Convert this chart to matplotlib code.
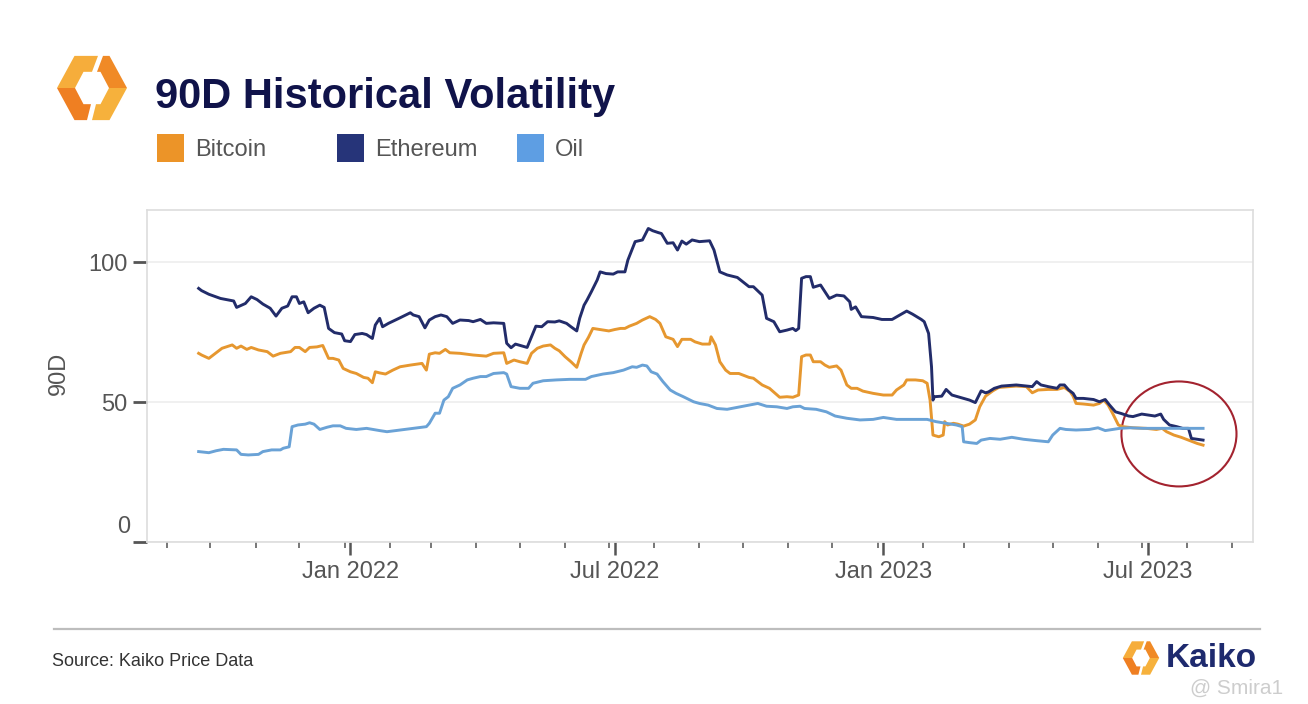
import matplotlib
matplotlib.use('Agg')
import matplotlib.pyplot as plt
import matplotlib.dates as mdates
from matplotlib.patches import Ellipse, Polygon, Rectangle
from matplotlib.lines import Line2D
import pandas as pd

plt.rcParams['font.family'] = ['Liberation Sans', 'DejaVu Sans']

W, H = 1308, 704

title = '90D Historical Volatility'
source = 'Source: Kaiko Price Data'
series_names = ['Bitcoin', 'Ethereum', 'Oil']
line_colors = {'Bitcoin': '#E6972F', 'Ethereum': '#222C6A', 'Oil': '#6AA2D6'}
legend_colors = {'Bitcoin': '#EC9428', 'Ethereum': '#263479', 'Oil': '#5E9EE3'}

bitcoin = [
    ("2021-09-19", 67.4), ("2021-09-21", 66.8), ("2021-09-26", 65.6), ("2021-09-29", 66.8),
    ("2021-10-05", 69.2), ("2021-10-12", 70.4), ("2021-10-15", 69.2), ("2021-10-18", 70.0),
    ("2021-10-22", 68.8), ("2021-10-25", 69.5), ("2021-10-30", 68.6), ("2021-11-05", 68.0),
    ("2021-11-09", 66.4), ("2021-11-14", 67.4), ("2021-11-21", 68.0), ("2021-11-24", 69.5),
    ("2021-11-27", 69.5), ("2021-12-01", 68.0), ("2021-12-04", 69.5), ("2021-12-09", 69.7),
    ("2021-12-13", 70.2), ("2021-12-17", 65.6), ("2021-12-20", 65.6), ("2021-12-24", 65.0),
    ("2021-12-27", 62.0), ("2022-01-01", 60.8), ("2022-01-05", 60.2), ("2022-01-10", 58.8),
    ("2022-01-13", 58.5), ("2022-01-16", 56.9), ("2022-01-18", 60.8), ("2022-01-21", 60.4),
    ("2022-01-25", 60.0), ("2022-01-30", 61.4), ("2022-02-04", 62.6), ("2022-02-11", 63.2),
    ("2022-02-15", 63.5), ("2022-02-19", 63.8), ("2022-02-22", 61.4), ("2022-02-24", 67.1),
    ("2022-02-28", 67.6), ("2022-03-03", 67.4), ("2022-03-07", 68.8), ("2022-03-10", 67.6),
    ("2022-03-17", 67.4), ("2022-03-26", 66.8), ("2022-04-04", 66.4), ("2022-04-09", 67.4),
    ("2022-04-16", 67.6), ("2022-04-18", 63.8), ("2022-04-23", 65.0), ("2022-04-27", 64.4),
    ("2022-05-02", 63.8), ("2022-05-05", 67.4), ("2022-05-09", 69.2), ("2022-05-13", 70.0),
    ("2022-05-18", 70.4), ("2022-05-21", 69.2), ("2022-05-24", 68.3), ("2022-05-28", 66.2),
    ("2022-06-01", 64.4), ("2022-06-05", 62.4), ("2022-06-08", 67.4), ("2022-06-10", 70.4),
    ("2022-06-13", 73.1), ("2022-06-16", 76.3), ("2022-06-21", 75.9), ("2022-06-27", 75.4),
    ("2022-07-01", 75.9), ("2022-07-05", 76.3), ("2022-07-08", 76.3), ("2022-07-11", 77.1),
    ("2022-07-16", 78.1), ("2022-07-20", 79.3), ("2022-07-25", 80.5), ("2022-07-29", 79.5),
    ("2022-08-01", 78.1), ("2022-08-05", 73.3), ("2022-08-10", 72.4), ("2022-08-13", 69.8),
    ("2022-08-16", 72.4), ("2022-08-22", 72.4), ("2022-08-25", 71.5), ("2022-08-30", 70.7),
    ("2022-09-04", 70.7), ("2022-09-05", 73.3), ("2022-09-08", 70.4), ("2022-09-11", 64.4),
    ("2022-09-15", 61.4), ("2022-09-18", 60.2), ("2022-09-24", 60.2), ("2022-10-01", 58.8),
    ("2022-10-04", 58.5), ("2022-10-10", 56.1), ("2022-10-15", 54.9), ("2022-10-22", 51.7),
    ("2022-10-27", 51.9), ("2022-10-31", 51.7), ("2022-11-04", 52.5), ("2022-11-06", 66.2),
    ("2022-11-09", 66.8), ("2022-11-12", 66.8), ("2022-11-14", 64.4), ("2022-11-19", 64.4),
    ("2022-11-22", 63.2), ("2022-11-25", 62.4), ("2022-11-30", 62.9), ("2022-12-03", 61.4),
    ("2022-12-07", 56.1), ("2022-12-10", 54.9), ("2022-12-14", 54.9), ("2022-12-18", 53.9),
    ("2022-12-25", 53.1), ("2023-01-01", 52.5), ("2023-01-07", 52.5), ("2023-01-10", 54.3),
    ("2023-01-15", 56.1), ("2023-01-17", 57.9), ("2023-01-23", 57.9), ("2023-01-28", 57.6),
    ("2023-01-31", 56.7), ("2023-02-02", 50.7), ("2023-02-04", 38.2), ("2023-02-08", 37.6),
    ("2023-02-11", 38.2), ("2023-02-12", 43.0), ("2023-02-14", 41.8), ("2023-02-18", 42.4),
    ("2023-02-21", 42.1), ("2023-02-25", 41.4), ("2023-03-01", 42.1), ("2023-03-05", 43.6),
    ("2023-03-08", 48.3), ("2023-03-12", 52.1), ("2023-03-17", 54.0), ("2023-03-21", 55.2),
    ("2023-04-02", 55.7), ("2023-04-09", 55.5), ("2023-04-13", 53.3), ("2023-04-17", 54.3),
    ("2023-04-24", 54.5), ("2023-04-30", 54.5), ("2023-05-05", 55.2), ("2023-05-09", 53.7),
    ("2023-05-11", 52.1), ("2023-05-13", 49.5), ("2023-05-18", 49.3), ("2023-05-25", 48.9),
    ("2023-05-29", 49.5), ("2023-06-01", 50.7), ("2023-06-04", 48.9), ("2023-06-07", 46.0),
    ("2023-06-11", 41.8), ("2023-06-14", 41.2), ("2023-06-21", 40.8), ("2023-06-30", 40.6),
    ("2023-07-07", 40.2), ("2023-07-11", 40.6), ("2023-07-14", 39.4), ("2023-07-19", 38.2),
    ("2023-07-24", 37.4), ("2023-07-30", 36.2), ("2023-08-04", 35.2), ("2023-08-08", 34.6),
]

ethereum = [
    ("2021-09-19", 90.6), ("2021-09-21", 89.8), ("2021-09-26", 88.5), ("2021-10-04", 87.0),
    ("2021-10-13", 86.1), ("2021-10-15", 83.8), ("2021-10-21", 85.2), ("2021-10-25", 87.6),
    ("2021-10-29", 86.6), ("2021-11-02", 85.0), ("2021-11-07", 83.5), ("2021-11-11", 80.7),
    ("2021-11-15", 83.5), ("2021-11-19", 84.3), ("2021-11-22", 87.6), ("2021-11-25", 87.6),
    ("2021-11-27", 85.2), ("2021-11-30", 85.8), ("2021-12-03", 81.9), ("2021-12-07", 83.5),
    ("2021-12-11", 84.6), ("2021-12-14", 83.8), ("2021-12-17", 76.3), ("2021-12-21", 74.8),
    ("2021-12-26", 74.3), ("2021-12-28", 71.9), ("2022-01-01", 71.6), ("2022-01-04", 74.1),
    ("2022-01-09", 74.5), ("2022-01-12", 74.1), ("2022-01-16", 72.7), ("2022-01-18", 77.5),
    ("2022-01-21", 79.9), ("2022-01-23", 76.9), ("2022-01-27", 78.1), ("2022-02-04", 80.1),
    ("2022-02-11", 81.9), ("2022-02-13", 81.1), ("2022-02-17", 80.5), ("2022-02-21", 76.5),
    ("2022-02-24", 79.3), ("2022-02-28", 80.5), ("2022-03-04", 81.1), ("2022-03-08", 80.5),
    ("2022-03-12", 78.1), ("2022-03-17", 79.3), ("2022-03-23", 79.1), ("2022-03-26", 78.7),
    ("2022-03-31", 79.5), ("2022-04-04", 78.1), ("2022-04-09", 78.3), ("2022-04-16", 78.1),
    ("2022-04-18", 71.0), ("2022-04-21", 69.4), ("2022-04-24", 70.7), ("2022-04-28", 70.1),
    ("2022-05-02", 69.5), ("2022-05-05", 73.3), ("2022-05-08", 77.1), ("2022-05-12", 76.9),
    ("2022-05-16", 78.7), ("2022-05-21", 78.6), ("2022-05-24", 79.0), ("2022-05-29", 78.1),
    ("2022-06-01", 76.9), ("2022-06-05", 75.4), ("2022-06-07", 79.9), ("2022-06-10", 84.6),
    ("2022-06-12", 86.4), ("2022-06-15", 89.4), ("2022-06-19", 93.6), ("2022-06-21", 96.5),
    ("2022-06-25", 95.9), ("2022-06-30", 95.7), ("2022-07-03", 96.5), ("2022-07-08", 96.5),
    ("2022-07-10", 100.7), ("2022-07-15", 107.3), ("2022-07-20", 107.9), ("2022-07-24", 112.0),
    ("2022-07-27", 111.2), ("2022-07-31", 110.5), ("2022-08-02", 110.2), ("2022-08-06", 106.7),
    ("2022-08-10", 106.9), ("2022-08-13", 104.3), ("2022-08-16", 107.5), ("2022-08-19", 106.4),
    ("2022-08-23", 107.9), ("2022-08-28", 107.3), ("2022-09-04", 107.6), ("2022-09-07", 104.3),
    ("2022-09-11", 96.5), ("2022-09-16", 95.4), ("2022-09-23", 94.5), ("2022-10-01", 91.2),
    ("2022-10-04", 91.2), ("2022-10-10", 88.2), ("2022-10-13", 79.9), ("2022-10-18", 78.7),
    ("2022-10-22", 75.1), ("2022-10-27", 75.7), ("2022-10-31", 76.3), ("2022-11-02", 75.5),
    ("2022-11-04", 76.3), ("2022-11-06", 94.2), ("2022-11-09", 94.8), ("2022-11-12", 94.8),
    ("2022-11-14", 91.0), ("2022-11-19", 91.8), ("2022-11-22", 89.4), ("2022-11-25", 87.0),
    ("2022-11-30", 88.2), ("2022-12-05", 87.9), ("2022-12-09", 85.8), ("2022-12-10", 83.1),
    ("2022-12-13", 84.0), ("2022-12-17", 80.5), ("2022-12-25", 80.2), ("2022-12-31", 79.5),
    ("2023-01-07", 79.5), ("2023-01-11", 80.7), ("2023-01-17", 82.5), ("2023-01-21", 81.4),
    ("2023-01-27", 79.5), ("2023-01-29", 78.7), ("2023-02-01", 74.5), ("2023-02-03", 62.6),
    ("2023-02-04", 50.7), ("2023-02-05", 51.9), ("2023-02-10", 52.1), ("2023-02-13", 54.5),
    ("2023-02-17", 52.5), ("2023-02-21", 51.9), ("2023-02-25", 51.3), ("2023-03-01", 50.7),
    ("2023-03-05", 49.8), ("2023-03-09", 54.0), ("2023-03-12", 53.3), ("2023-03-14", 53.6),
    ("2023-03-18", 54.9), ("2023-03-23", 55.7), ("2023-04-02", 56.1), ("2023-04-09", 55.7),
    ("2023-04-13", 55.5), ("2023-04-16", 57.3), ("2023-04-19", 56.1), ("2023-04-24", 55.5),
    ("2023-04-30", 54.9), ("2023-05-02", 56.1), ("2023-05-05", 56.1), ("2023-05-08", 54.3),
    ("2023-05-11", 53.1), ("2023-05-13", 51.3), ("2023-05-18", 51.3), ("2023-05-25", 50.9),
    ("2023-05-29", 50.1), ("2023-06-02", 50.9), ("2023-06-05", 48.9), ("2023-06-09", 46.5),
    ("2023-06-13", 45.9), ("2023-06-18", 45.0), ("2023-06-21", 44.8), ("2023-06-27", 45.7),
    ("2023-07-01", 45.4), ("2023-07-06", 45.0), ("2023-07-10", 45.7), ("2023-07-12", 43.8),
    ("2023-07-16", 41.8), ("2023-07-21", 41.2), ("2023-07-25", 40.6), ("2023-07-29", 40.6),
    ("2023-07-31", 37.0), ("2023-08-04", 36.7), ("2023-08-08", 36.4),
]

oil = [
    ("2021-09-19", 32.3), ("2021-09-26", 31.9), ("2021-10-01", 32.6), ("2021-10-06", 33.1),
    ("2021-10-15", 32.9), ("2021-10-18", 31.3), ("2021-10-23", 31.1), ("2021-10-30", 31.3),
    ("2021-11-02", 32.3), ("2021-11-08", 32.9), ("2021-11-14", 32.9), ("2021-11-16", 33.5),
    ("2021-11-20", 34.0), ("2021-11-22", 41.2), ("2021-11-26", 41.8), ("2021-12-01", 42.1),
    ("2021-12-04", 42.6), ("2021-12-07", 42.1), ("2021-12-11", 40.2), ("2021-12-16", 41.0),
    ("2021-12-20", 41.5), ("2021-12-25", 41.5), ("2021-12-29", 40.6), ("2022-01-05", 40.2),
    ("2022-01-12", 40.6), ("2022-01-21", 39.8), ("2022-01-26", 39.4), ("2022-02-04", 40.0),
    ("2022-02-13", 40.6), ("2022-02-22", 41.2), ("2022-02-24", 42.4), ("2022-02-28", 46.0),
    ("2022-03-03", 46.0), ("2022-03-06", 50.7), ("2022-03-09", 51.9), ("2022-03-12", 54.9),
    ("2022-03-17", 56.1), ("2022-03-22", 57.9), ("2022-03-26", 58.5), ("2022-03-31", 59.1),
    ("2022-04-04", 59.1), ("2022-04-09", 60.2), ("2022-04-16", 60.5), ("2022-04-18", 60.0),
    ("2022-04-21", 55.5), ("2022-04-27", 54.9), ("2022-05-03", 54.9), ("2022-05-06", 56.7),
    ("2022-05-13", 57.6), ("2022-05-22", 57.9), ("2022-05-31", 58.1), ("2022-06-11", 58.1),
    ("2022-06-15", 59.1), ("2022-06-23", 60.0), ("2022-06-30", 60.5), ("2022-07-07", 61.4),
    ("2022-07-13", 62.6), ("2022-07-16", 62.4), ("2022-07-20", 63.2), ("2022-07-23", 62.9),
    ("2022-07-26", 60.8), ("2022-07-30", 60.0), ("2022-08-03", 57.3), ("2022-08-08", 54.3),
    ("2022-08-12", 53.1), ("2022-08-17", 51.9), ("2022-08-24", 50.1), ("2022-08-28", 49.5),
    ("2022-09-03", 48.9), ("2022-09-09", 47.7), ("2022-09-16", 47.4), ("2022-09-23", 48.1),
    ("2022-10-01", 48.9), ("2022-10-07", 49.5), ("2022-10-13", 48.5), ("2022-10-20", 48.3),
    ("2022-10-27", 47.7), ("2022-10-31", 48.3), ("2022-11-05", 48.5), ("2022-11-08", 47.7),
    ("2022-11-16", 47.4), ("2022-11-23", 46.5), ("2022-11-29", 45.0), ("2022-12-07", 44.2),
    ("2022-12-16", 43.6), ("2022-12-25", 43.8), ("2023-01-01", 44.5), ("2023-01-10", 43.8),
    ("2023-01-21", 43.8), ("2023-01-31", 43.8), ("2023-02-06", 43.0), ("2023-02-13", 42.4),
    ("2023-02-20", 41.8), ("2023-02-24", 41.2), ("2023-02-25", 35.8), ("2023-03-01", 35.5),
    ("2023-03-06", 35.2), ("2023-03-09", 36.4), ("2023-03-15", 37.0), ("2023-03-22", 36.7),
    ("2023-03-30", 37.4), ("2023-04-07", 36.7), ("2023-04-16", 36.2), ("2023-04-24", 35.8),
    ("2023-04-27", 38.2), ("2023-05-02", 40.6), ("2023-05-06", 40.2), ("2023-05-13", 40.0),
    ("2023-05-22", 40.2), ("2023-05-28", 40.8), ("2023-06-02", 39.8), ("2023-06-07", 40.2),
    ("2023-06-12", 40.6), ("2023-06-19", 40.8), ("2023-06-28", 40.6), ("2023-07-07", 40.6),
    ("2023-07-16", 40.6), ("2023-07-25", 40.6), ("2023-08-08", 40.6),
]

y_ticks = [0, 50, 100]
x_ticks = ['2022-01-01', '2022-07-01', '2023-01-01', '2023-07-01']
x_tick_labels = ['Jan 2022', 'Jul 2022', 'Jan 2023', 'Jul 2023']


def fpt(x, y):
    # pixel position (y from top) -> figure fraction
    return (x / W, 1 - y / H)


def draw_logo(fig, cx, cy, s):
    R, r = 35.0, 17.0
    hy = 30.3 * 1.06
    iy = 14.7 * 1.1
    pieces = [
        ([(6, -hy), (-R / 2, -hy), (-R, 0), (-r, 0), (-r / 2, -iy), (0, -iy)], '#F6AD3B'),
        ([(-R, 0), (-R / 2, hy), (-5, hy), (-1, iy), (-r / 2, iy), (-r, 0)], '#EF7F22'),
        ([(11, -hy), (R / 2, -hy), (R, 0), (r, 0), (r / 2, -iy), (5, -iy)], '#F08A26'),
        ([(R, 0), (R / 2, hy), (0, hy), (4, iy), (r / 2, iy), (r, 0)], '#F6B13C'),
    ]
    for pts, c in pieces:
        poly = [fpt(cx + s * px, cy + s * py) for px, py in pts]
        fig.add_artist(Polygon(poly, closed=True, transform=fig.transFigure,
                               facecolor=c, edgecolor='none'))


fig = plt.figure(figsize=(W / 100, H / 100), dpi=100)
fig.patch.set_facecolor('white')

# header
draw_logo(fig, 92, 88, 1.0)
fig.text(*fpt(155, 108), title, fontsize=30, fontweight='bold', color='#10134A',
         ha='left', va='baseline')

legend_pos = [(157, 195), (337, 375), (517, 555)]
for name, (sx, tx) in zip(series_names, legend_pos):
    x0, y0 = fpt(sx, 162)
    fig.add_artist(Rectangle((x0, y0), 27 / W, 28 / H, transform=fig.transFigure,
                             facecolor=legend_colors[name], edgecolor='none'))
    fig.text(*fpt(tx, 156), name, fontsize=17, color='#555555', ha='left', va='baseline')

# chart
ax = fig.add_axes([146.7 / W, 1 - 542 / H, (1253 - 146.7) / W, (542 - 210) / H])

for name, data in zip(series_names, [bitcoin, ethereum, oil]):
    d = pd.to_datetime([t[0] for t in data])
    v = [t[1] for t in data]
    ax.plot(d, v, color=line_colors[name], lw=2.1, solid_joinstyle='round')

ax.set_xlim(pd.Timestamp('2021-08-14 10:00'), pd.Timestamp('2023-09-11 05:00'))
ax.set_ylim(0, 118.6)

ax.set_yticks(y_ticks, ['', '50', '100'])
ax.annotate('0', xy=(0, 0), xycoords=('axes fraction', 'data'), xytext=(-11.5, 11),
            textcoords='offset points', ha='right', va='center', fontsize=17, color='#555555')
ax.set_xticks(pd.to_datetime(x_ticks), x_tick_labels)
minor = pd.date_range('2021-09-01', '2023-09-01', freq='MS') - pd.Timedelta(days=4)
ax.set_xticks(minor, minor=True)

ax.tick_params(axis='x', which='major', length=9, width=1.8, color='#555555',
               labelsize=17, labelcolor='#555555', pad=5)
ax.tick_params(axis='x', which='minor', length=4, width=1.4, color='#777777')
ax.tick_params(axis='y', length=10, width=2, color='#555555', labelsize=17,
               labelcolor='#555555', pad=4)

for sp in ax.spines.values():
    sp.set_color('#DDDDDD')
    sp.set_linewidth(1.2)
ax.yaxis.grid(True, color='#EEEEEE', lw=1.2)
ax.set_axisbelow(True)

ax.set_ylabel('90D', fontsize=17, color='#555555')
ax.yaxis.set_label_coords((70 - 146.7) / (1253 - 146.7), (542 - 373) / 332)

# highlight circle around the latest values
center = mdates.date2num(pd.Timestamp('2023-07-22 12:00'))
ax.add_patch(Ellipse((center, 38.6), width=78.8, height=37.5, fill=False,
                     edgecolor='#A3232F', lw=1.5, clip_on=False))

# footer
fig.add_artist(Line2D([54 / W, 1260 / W], [1 - 629 / H] * 2, transform=fig.transFigure,
                      color='#BDBDBD', lw=1.6))
fig.text(*fpt(52, 662), source, fontsize=13, color='#333333', ha='left', va='center')
draw_logo(fig, 1141, 658, 0.52)
fig.text(*fpt(1166, 667), 'Kaiko', fontsize=24, fontweight='bold', color='#1E2A6E',
         ha='left', va='baseline')
fig.text(*fpt(1190, 688), '@ Smira1', fontsize=15, color='#C8C8C8', alpha=0.9,
         ha='left', va='center')

fig.savefig('out.png', dpi=100)
